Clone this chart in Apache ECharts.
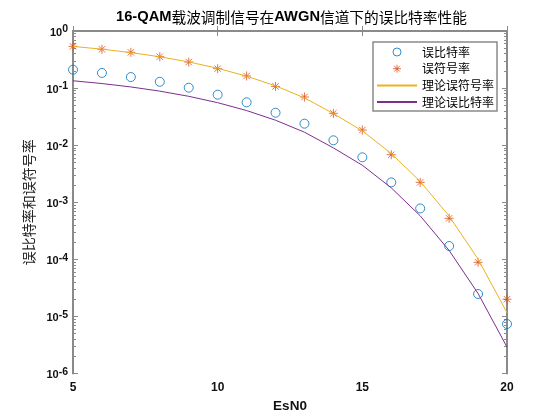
<!DOCTYPE html>
<html>
<head>
<meta charset="utf-8">
<script src="https://cdn.jsdelivr.net/npm/echarts@6/dist/echarts.min.js"></script>
<style>
html,body{margin:0;padding:0;background:#fff;}
#chart{width:560px;height:420px;}
</style>
</head>
<body>
<div id="chart"></div>
<script>
// ---- data ----
const esn0 = [5, 6, 7, 8, 9, 10, 11, 12, 13, 14, 15, 16, 17, 18, 19, 20];
const berSim = [0.210, 0.184, 0.156, 0.129, 0.1016, 0.0766, 0.0563, 0.0370, 0.0238, 0.01217, 0.00613, 0.00223, 0.00078, 1.71e-4, 2.47e-5, 7.36e-6];
const serSim = [0.539, 0.478, 0.423, 0.355, 0.286, 0.219, 0.163, 0.107, 0.0698, 0.0361, 0.0184, 0.0068, 0.00223, 5.23e-4, 8.87e-5, 2.0e-5];
const serTheory = [0.5374, 0.4804, 0.4187, 0.3535, 0.2871, 0.2220, 0.1617, 0.1094, 0.06746, 0.03582, 0.01778, 0.007151, 0.002316, 5.725e-4, 1.009e-4, 1.162e-5];
const berTheory = [0.1344, 0.1201, 0.1047, 0.08839, 0.07177, 0.05551, 0.04042, 0.02734, 0.01687, 0.008956, 0.004446, 0.001788, 5.789e-4, 1.431e-4, 2.522e-5, 2.904e-6];
const seriesNames = ['误比特率', '误符号率', '理论误符号率', '理论误比特率'];
const xTicks = [5, 10, 15, 20];
const yExponents = [-6, -5, -4, -3, -2, -1, 0];

// ---- styling ----
const AX = '#8a8a8a';
const LATIN = "'Liberation Sans', Arial, 'Noto Sans CJK SC', sans-serif";
const CJK = "'Noto Sans CJK SC', 'Liberation Sans', sans-serif";
const star = 'path://M5,0L5,10M0,5L10,5M1.46,1.46L8.54,8.54M8.54,1.46L1.46,8.54';
const C_BLUE = '#0072BD', C_RED = '#D95319', C_YEL = '#EDB120', C_PUR = '#7E2F8E';

const majorLog = yExponents.slice();
const minorLog = [];
for (let k = yExponents[0]; k < yExponents[yExponents.length - 1]; k++) {
  for (let m = 2; m <= 9; m++) minorLog.push(k + Math.log10(m));
}
const pairs = arr => esn0.map((x, i) => [x, arr[i]]);

const chart = echarts.init(document.getElementById('chart'), null, {renderer: 'canvas'});

const yLabelRich = {
  b: {fontFamily: LATIN, fontWeight: 'bold', fontSize: 11, color: '#111', lineHeight: 11, padding: [5.5, 0, 2.5, 0]},
  s: {fontFamily: LATIN, fontWeight: 'bold', fontSize: 10.5, color: '#111', lineHeight: 11, padding: [2.5, 0, 5.5, 0]}
};
const hidden = {color: 'transparent', borderColor: 'transparent', borderWidth: 0, opacity: 0};

const option = {
  animation: false,
  backgroundColor: '#fff',
  title: {
    left: 116, top: 10, padding: 0,
    text: '{b|16-QAM}{c|载波调制信号在}{b|AWGN}{c|信道下的误比特率性能}',
    textStyle: {
      rich: {
        b: {fontFamily: LATIN, fontWeight: 'bold', fontSize: 14.7, color: '#000'},
        c: {fontFamily: CJK, fontWeight: 'normal', fontSize: 14.7, color: '#000'}
      }
    }
  },
  grid: {left: 73, right: 53, top: 31, bottom: 46.5, containLabel: false},
  legend: {
    orient: 'vertical', left: 373, top: 42,
    padding: [3, 3, 2, 3],
    itemWidth: 40, itemHeight: 8, itemGap: 2.7,
    backgroundColor: '#fff', borderColor: AX, borderWidth: 1.5, borderRadius: 0,
    textStyle: {fontFamily: CJK, fontSize: 12, color: '#000', lineHeight: 14},
    data: [
      {name: seriesNames[0], itemStyle: {color: 'transparent', borderColor: C_BLUE, borderWidth: 1}},
      {name: seriesNames[1], itemStyle: {color: 'transparent', borderColor: C_RED, borderWidth: 1}},
      {name: seriesNames[2], itemStyle: hidden},
      {name: seriesNames[3], itemStyle: hidden}
    ]
  },
  xAxis: [
    {
      type: 'value', min: 5, max: 20, interval: 5, position: 'bottom',
      axisLine: {show: true, lineStyle: {color: AX, width: 2}},
      axisTick: {show: true, inside: true, length: 5, lineStyle: {color: AX, width: 1}},
      axisLabel: {margin: 8, fontFamily: LATIN, fontWeight: 'bold', fontSize: 12, color: '#111', customValues: xTicks},
      splitLine: {show: false},
      name: 'EsN0', nameLocation: 'middle', nameGap: 26,
      nameTextStyle: {fontFamily: LATIN, fontWeight: 'bold', fontSize: 13.5, color: '#111'}
    },
    {
      type: 'value', min: 5, max: 20, interval: 5, position: 'top',
      axisLine: {show: true, lineStyle: {color: AX, width: 2}},
      axisTick: {show: true, inside: true, length: 5, lineStyle: {color: AX, width: 1}},
      axisLabel: {show: false}, splitLine: {show: false}
    }
  ],
  yAxis: [
    {
      type: 'log', logBase: 10, min: 1e-6, max: 1, position: 'left',
      axisLine: {show: true, lineStyle: {color: AX, width: 2}},
      axisTick: {show: true, inside: true, length: 5, lineStyle: {color: AX, width: 1}},
      splitLine: {show: false},
      axisLabel: {
        margin: 5,
        formatter: v => '{b|10}{s|' + Math.round(Math.log10(v)) + '}',
        rich: yLabelRich
      },
      name: '误比特率和误符号率', nameLocation: 'middle', nameGap: 37.5, nameRotate: 90,
      nameTextStyle: {fontFamily: CJK, fontSize: 14, color: '#262626'}
    },
    {
      type: 'value', min: -6, max: 0, position: 'left',
      axisLine: {show: false}, axisLabel: {show: false}, splitLine: {show: false},
      axisTick: {show: true, inside: true, length: 3, customValues: minorLog, lineStyle: {color: AX, width: 1}}
    },
    {
      type: 'value', min: -6, max: 0, position: 'right',
      axisLine: {show: true, lineStyle: {color: AX, width: 2}}, axisLabel: {show: false}, splitLine: {show: false},
      axisTick: {show: true, inside: true, length: 5, customValues: majorLog, lineStyle: {color: AX, width: 1}}
    },
    {
      type: 'value', min: -6, max: 0, position: 'right',
      axisLine: {show: false}, axisLabel: {show: false}, splitLine: {show: false},
      axisTick: {show: true, inside: true, length: 3, customValues: minorLog, lineStyle: {color: AX, width: 1}}
    }
  ],
  series: [
    {
      name: seriesNames[0], type: 'scatter', symbol: 'circle', symbolSize: 9,
      itemStyle: {color: 'transparent', borderColor: C_BLUE, borderWidth: 1},
      data: pairs(berSim), z: 2
    },
    {
      name: seriesNames[1], type: 'scatter', symbol: star, symbolSize: 9,
      itemStyle: {color: 'transparent', borderColor: C_RED, borderWidth: 1},
      data: pairs(serSim), z: 2
    },
    {
      name: seriesNames[2], type: 'line', symbol: 'none', showSymbol: false,
      lineStyle: {color: C_YEL, width: 1}, itemStyle: {color: C_YEL},
      data: pairs(serTheory), z: 3
    },
    {
      name: seriesNames[3], type: 'line', symbol: 'none', showSymbol: false,
      lineStyle: {color: C_PUR, width: 1}, itemStyle: {color: C_PUR},
      data: pairs(berTheory), z: 3
    }
  ]
};
chart.setOption(option);
</script>
</body>
</html>
